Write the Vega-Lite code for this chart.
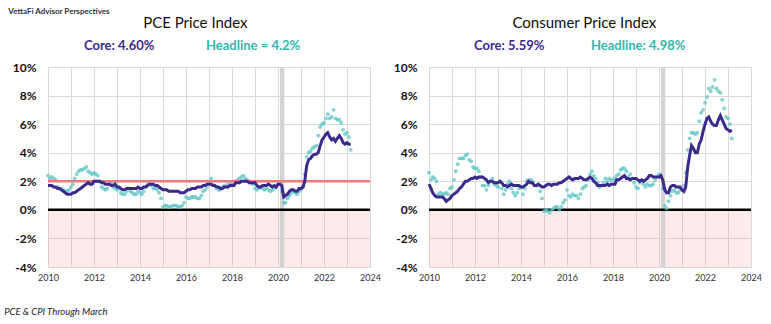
{
"$schema":"https://vega.github.io/schema/vega-lite/v6.json",
"background":"white",
"padding":{"left":4,"right":4,"top":8,"bottom":4},
"title":{"text":"PCE & CPI Through March","orient":"bottom","anchor":"start","frame":"bounds","fontSize":9.5,"fontStyle":"italic","fontWeight":"normal","color":"#222","offset":25,"dx":-4},
"datasets":{
"band":[{"a":"2020-02-01","b":"2020-04-10"}],
"m":[
{"d":"2010-01","pc":1.7,"ph":2.4,"cc":1.8,"ch":2.6},
{"d":"2010-02","pc":1.7,"ph":2.2,"cc":1.5,"ch":2.1},
{"d":"2010-03","pc":1.7,"ph":2.3,"cc":1.2,"ch":2.3},
{"d":"2010-04","pc":1.6,"ph":2.2,"cc":1.0,"ch":2.2},
{"d":"2010-05","pc":1.6,"ph":2.1,"cc":0.9,"ch":2.0},
{"d":"2010-06","pc":1.5,"ph":1.6,"cc":0.9,"ch":1.1},
{"d":"2010-07","pc":1.5,"ph":1.5,"cc":0.9,"ch":1.2},
{"d":"2010-08","pc":1.4,"ph":1.5,"cc":0.9,"ch":1.1},
{"d":"2010-09","pc":1.3,"ph":1.4,"cc":0.8,"ch":1.1},
{"d":"2010-10","pc":1.2,"ph":1.3,"cc":0.6,"ch":1.2},
{"d":"2010-11","pc":1.1,"ph":1.3,"cc":0.7,"ch":1.1},
{"d":"2010-12","pc":1.1,"ph":1.4,"cc":0.8,"ch":1.5},
{"d":"2011-01","pc":1.1,"ph":1.6,"cc":1.0,"ch":1.6},
{"d":"2011-02","pc":1.2,"ph":1.8,"cc":1.1,"ch":2.1},
{"d":"2011-03","pc":1.2,"ph":2.2,"cc":1.2,"ch":2.7},
{"d":"2011-04","pc":1.3,"ph":2.5,"cc":1.3,"ch":3.2},
{"d":"2011-05","pc":1.4,"ph":2.7,"cc":1.5,"ch":3.6},
{"d":"2011-06","pc":1.5,"ph":2.8,"cc":1.6,"ch":3.6},
{"d":"2011-07","pc":1.6,"ph":2.8,"cc":1.8,"ch":3.6},
{"d":"2011-08","pc":1.7,"ph":2.9,"cc":2.0,"ch":3.8},
{"d":"2011-09","pc":1.8,"ph":3.0,"cc":2.0,"ch":3.9},
{"d":"2011-10","pc":1.9,"ph":2.7,"cc":2.1,"ch":3.5},
{"d":"2011-11","pc":1.8,"ph":2.6,"cc":2.2,"ch":3.4},
{"d":"2011-12","pc":1.8,"ph":2.5,"cc":2.2,"ch":3.0},
{"d":"2012-01","pc":2.0,"ph":2.6,"cc":2.3,"ch":2.9},
{"d":"2012-02","pc":2.0,"ph":2.5,"cc":2.2,"ch":2.9},
{"d":"2012-03","pc":2.0,"ph":2.4,"cc":2.3,"ch":2.7},
{"d":"2012-04","pc":2.0,"ph":2.0,"cc":2.3,"ch":2.3},
{"d":"2012-05","pc":1.9,"ph":1.6,"cc":2.3,"ch":1.7},
{"d":"2012-06","pc":1.9,"ph":1.5,"cc":2.2,"ch":1.7},
{"d":"2012-07","pc":1.8,"ph":1.4,"cc":2.1,"ch":1.4},
{"d":"2012-08","pc":1.8,"ph":1.5,"cc":1.9,"ch":1.7},
{"d":"2012-09","pc":1.8,"ph":1.8,"cc":2.0,"ch":2.0},
{"d":"2012-10","pc":1.7,"ph":1.9,"cc":2.0,"ch":2.2},
{"d":"2012-11","pc":1.7,"ph":1.6,"cc":1.9,"ch":1.8},
{"d":"2012-12","pc":1.8,"ph":1.5,"cc":1.9,"ch":1.7},
{"d":"2013-01","pc":1.6,"ph":1.4,"cc":1.9,"ch":1.6},
{"d":"2013-02","pc":1.6,"ph":1.5,"cc":2.0,"ch":2.0},
{"d":"2013-03","pc":1.5,"ph":1.2,"cc":1.9,"ch":1.5},
{"d":"2013-04","pc":1.4,"ph":1.1,"cc":1.7,"ch":1.1},
{"d":"2013-05","pc":1.4,"ph":1.1,"cc":1.7,"ch":1.4},
{"d":"2013-06","pc":1.5,"ph":1.3,"cc":1.6,"ch":1.8},
{"d":"2013-07","pc":1.5,"ph":1.5,"cc":1.7,"ch":2.0},
{"d":"2013-08","pc":1.5,"ph":1.3,"cc":1.8,"ch":1.5},
{"d":"2013-09","pc":1.5,"ph":1.2,"cc":1.7,"ch":1.2},
{"d":"2013-10","pc":1.5,"ph":1.1,"cc":1.7,"ch":1.0},
{"d":"2013-11","pc":1.5,"ph":1.1,"cc":1.7,"ch":1.2},
{"d":"2013-12","pc":1.6,"ph":1.3,"cc":1.7,"ch":1.5},
{"d":"2014-01","pc":1.5,"ph":1.2,"cc":1.6,"ch":1.6},
{"d":"2014-02","pc":1.5,"ph":1.1,"cc":1.6,"ch":1.1},
{"d":"2014-03","pc":1.6,"ph":1.3,"cc":1.7,"ch":1.5},
{"d":"2014-04","pc":1.6,"ph":1.6,"cc":1.8,"ch":2.0},
{"d":"2014-05","pc":1.7,"ph":1.8,"cc":2.0,"ch":2.1},
{"d":"2014-06","pc":1.8,"ph":1.8,"cc":1.9,"ch":2.1},
{"d":"2014-07","pc":1.8,"ph":1.7,"cc":1.9,"ch":2.0},
{"d":"2014-08","pc":1.8,"ph":1.5,"cc":1.7,"ch":1.7},
{"d":"2014-09","pc":1.7,"ph":1.5,"cc":1.7,"ch":1.7},
{"d":"2014-10","pc":1.7,"ph":1.4,"cc":1.8,"ch":1.7},
{"d":"2014-11","pc":1.6,"ph":1.2,"cc":1.7,"ch":1.3},
{"d":"2014-12","pc":1.5,"ph":0.8,"cc":1.6,"ch":0.8},
{"d":"2015-01","pc":1.4,"ph":0.2,"cc":1.6,"ch":-0.1},
{"d":"2015-02","pc":1.4,"ph":0.3,"cc":1.7,"ch":0.0},
{"d":"2015-03","pc":1.4,"ph":0.3,"cc":1.8,"ch":-0.1},
{"d":"2015-04","pc":1.3,"ph":0.2,"cc":1.8,"ch":-0.2},
{"d":"2015-05","pc":1.3,"ph":0.2,"cc":1.7,"ch":0.0},
{"d":"2015-06","pc":1.3,"ph":0.3,"cc":1.8,"ch":0.1},
{"d":"2015-07","pc":1.3,"ph":0.3,"cc":1.8,"ch":0.2},
{"d":"2015-08","pc":1.3,"ph":0.3,"cc":1.8,"ch":0.2},
{"d":"2015-09","pc":1.3,"ph":0.2,"cc":1.9,"ch":0.0},
{"d":"2015-10","pc":1.2,"ph":0.2,"cc":1.9,"ch":0.2},
{"d":"2015-11","pc":1.2,"ph":0.3,"cc":2.0,"ch":0.5},
{"d":"2015-12","pc":1.2,"ph":0.5,"cc":2.1,"ch":0.7},
{"d":"2016-01","pc":1.3,"ph":0.9,"cc":2.2,"ch":1.4},
{"d":"2016-02","pc":1.4,"ph":0.8,"cc":2.3,"ch":1.0},
{"d":"2016-03","pc":1.4,"ph":0.8,"cc":2.2,"ch":0.9},
{"d":"2016-04","pc":1.5,"ph":0.9,"cc":2.1,"ch":1.1},
{"d":"2016-05","pc":1.5,"ph":0.9,"cc":2.2,"ch":1.0},
{"d":"2016-06","pc":1.5,"ph":0.9,"cc":2.2,"ch":1.0},
{"d":"2016-07","pc":1.6,"ph":0.8,"cc":2.2,"ch":0.8},
{"d":"2016-08","pc":1.6,"ph":0.8,"cc":2.3,"ch":1.1},
{"d":"2016-09","pc":1.6,"ph":1.0,"cc":2.2,"ch":1.5},
{"d":"2016-10","pc":1.7,"ph":1.3,"cc":2.1,"ch":1.6},
{"d":"2016-11","pc":1.7,"ph":1.4,"cc":2.1,"ch":1.7},
{"d":"2016-12","pc":1.8,"ph":1.6,"cc":2.2,"ch":2.1},
{"d":"2017-01","pc":1.8,"ph":1.9,"cc":2.3,"ch":2.5},
{"d":"2017-02","pc":1.8,"ph":2.2,"cc":2.2,"ch":2.7},
{"d":"2017-03","pc":1.7,"ph":1.8,"cc":2.0,"ch":2.4},
{"d":"2017-04","pc":1.7,"ph":1.7,"cc":1.9,"ch":2.2},
{"d":"2017-05","pc":1.6,"ph":1.5,"cc":1.7,"ch":1.9},
{"d":"2017-06","pc":1.6,"ph":1.4,"cc":1.7,"ch":1.6},
{"d":"2017-07","pc":1.5,"ph":1.4,"cc":1.7,"ch":1.7},
{"d":"2017-08","pc":1.5,"ph":1.6,"cc":1.7,"ch":1.9},
{"d":"2017-09","pc":1.6,"ph":1.7,"cc":1.7,"ch":2.2},
{"d":"2017-10","pc":1.6,"ph":1.6,"cc":1.8,"ch":2.0},
{"d":"2017-11","pc":1.6,"ph":1.8,"cc":1.7,"ch":2.2},
{"d":"2017-12","pc":1.7,"ph":1.8,"cc":1.8,"ch":2.1},
{"d":"2018-01","pc":1.7,"ph":1.8,"cc":1.8,"ch":2.1},
{"d":"2018-02","pc":1.7,"ph":1.8,"cc":1.8,"ch":2.2},
{"d":"2018-03","pc":1.9,"ph":2.0,"cc":2.1,"ch":2.4},
{"d":"2018-04","pc":1.9,"ph":2.1,"cc":2.1,"ch":2.5},
{"d":"2018-05","pc":1.9,"ph":2.2,"cc":2.2,"ch":2.8},
{"d":"2018-06","pc":2.0,"ph":2.3,"cc":2.3,"ch":2.9},
{"d":"2018-07","pc":2.0,"ph":2.4,"cc":2.4,"ch":2.9},
{"d":"2018-08","pc":2.0,"ph":2.2,"cc":2.2,"ch":2.7},
{"d":"2018-09","pc":2.0,"ph":2.1,"cc":2.2,"ch":2.3},
{"d":"2018-10","pc":1.9,"ph":2.0,"cc":2.1,"ch":2.5},
{"d":"2018-11","pc":1.9,"ph":1.9,"cc":2.2,"ch":2.2},
{"d":"2018-12","pc":1.9,"ph":1.8,"cc":2.2,"ch":1.9},
{"d":"2019-01","pc":1.9,"ph":1.5,"cc":2.2,"ch":1.6},
{"d":"2019-02","pc":1.7,"ph":1.4,"cc":2.1,"ch":1.5},
{"d":"2019-03","pc":1.6,"ph":1.5,"cc":2.0,"ch":1.9},
{"d":"2019-04","pc":1.6,"ph":1.6,"cc":2.1,"ch":2.0},
{"d":"2019-05","pc":1.7,"ph":1.5,"cc":2.0,"ch":1.8},
{"d":"2019-06","pc":1.7,"ph":1.4,"cc":2.1,"ch":1.6},
{"d":"2019-07","pc":1.7,"ph":1.5,"cc":2.2,"ch":1.8},
{"d":"2019-08","pc":1.8,"ph":1.4,"cc":2.4,"ch":1.7},
{"d":"2019-09","pc":1.7,"ph":1.3,"cc":2.4,"ch":1.7},
{"d":"2019-10","pc":1.6,"ph":1.4,"cc":2.3,"ch":1.8},
{"d":"2019-11","pc":1.7,"ph":1.5,"cc":2.3,"ch":2.1},
{"d":"2019-12","pc":1.6,"ph":1.6,"cc":2.3,"ch":2.3},
{"d":"2020-01","pc":1.8,"ph":1.8,"cc":2.3,"ch":2.5},
{"d":"2020-02","pc":1.8,"ph":1.8,"cc":2.4,"ch":2.3},
{"d":"2020-03","pc":1.7,"ph":1.3,"cc":2.1,"ch":1.5},
{"d":"2020-04","pc":0.9,"ph":0.5,"cc":1.4,"ch":0.3},
{"d":"2020-05","pc":1.0,"ph":0.5,"cc":1.2,"ch":0.1},
{"d":"2020-06","pc":1.1,"ph":0.8,"cc":1.2,"ch":0.6},
{"d":"2020-07","pc":1.3,"ph":1.0,"cc":1.6,"ch":1.0},
{"d":"2020-08","pc":1.4,"ph":1.2,"cc":1.7,"ch":1.3},
{"d":"2020-09","pc":1.4,"ph":1.3,"cc":1.7,"ch":1.4},
{"d":"2020-10","pc":1.3,"ph":1.2,"cc":1.6,"ch":1.2},
{"d":"2020-11","pc":1.3,"ph":1.1,"cc":1.6,"ch":1.2},
{"d":"2020-12","pc":1.5,"ph":1.3,"cc":1.6,"ch":1.4},
{"d":"2021-01","pc":1.5,"ph":1.4,"cc":1.4,"ch":1.4},
{"d":"2021-02","pc":1.6,"ph":1.6,"cc":1.3,"ch":1.7},
{"d":"2021-03","pc":2.0,"ph":2.5,"cc":1.6,"ch":2.6},
{"d":"2021-04","pc":3.1,"ph":3.7,"cc":3.0,"ch":4.2},
{"d":"2021-05","pc":3.5,"ph":4.0,"cc":3.8,"ch":5.0},
{"d":"2021-06","pc":3.6,"ph":4.1,"cc":4.5,"ch":5.4},
{"d":"2021-07","pc":3.8,"ph":4.3,"cc":4.3,"ch":5.4},
{"d":"2021-08","pc":3.9,"ph":4.4,"cc":4.0,"ch":5.3},
{"d":"2021-09","pc":3.9,"ph":4.5,"cc":4.0,"ch":5.4},
{"d":"2021-10","pc":4.0,"ph":5.2,"cc":4.6,"ch":6.2},
{"d":"2021-11","pc":4.5,"ph":5.8,"cc":4.9,"ch":6.8},
{"d":"2021-12","pc":4.9,"ph":6.0,"cc":5.5,"ch":7.0},
{"d":"2022-01","pc":5.1,"ph":6.1,"cc":6.0,"ch":7.5},
{"d":"2022-02","pc":5.3,"ph":6.4,"cc":6.4,"ch":7.9},
{"d":"2022-03","pc":5.4,"ph":6.7,"cc":6.5,"ch":8.5},
{"d":"2022-04","pc":5.1,"ph":6.4,"cc":6.2,"ch":8.3},
{"d":"2022-05","pc":4.9,"ph":6.5,"cc":6.0,"ch":8.6},
{"d":"2022-06","pc":5.0,"ph":7.0,"cc":5.9,"ch":9.1},
{"d":"2022-07","pc":4.8,"ph":6.4,"cc":5.9,"ch":8.5},
{"d":"2022-08","pc":5.0,"ph":6.3,"cc":6.3,"ch":8.3},
{"d":"2022-09","pc":5.2,"ph":6.3,"cc":6.6,"ch":8.2},
{"d":"2022-10","pc":5.0,"ph":6.1,"cc":6.3,"ch":7.7},
{"d":"2022-11","pc":4.7,"ph":5.6,"cc":6.0,"ch":7.1},
{"d":"2022-12","pc":4.6,"ph":5.3,"cc":5.7,"ch":6.5},
{"d":"2023-01","pc":4.7,"ph":5.4,"cc":5.6,"ch":6.4},
{"d":"2023-02","pc":4.6,"ph":5.1,"cc":5.5,"ch":6.0},
{"d":"2023-03","pc":4.6,"ph":4.2,"cc":5.6,"ch":5.0}
]},
"vconcat":[{
"title":{"text":"VettaFi  Advisor Perspectives","orient":"top","anchor":"start","frame":"bounds","fontSize":8,"fontWeight":"bold","color":"#333","offset":0,"dx":-4},
"spacing":12,
"resolve":{"scale":{"color":"independent"},"legend":{"color":"independent"}},
"hconcat":[
{
"width":322,"height":200,
"title":{"text":"PCE Price Index","frame":"bounds","anchor":"middle","fontSize":15,"fontWeight":"normal","color":"#111","offset":8,"dx":-1},
"layer":[
{"data":{"values":[{}]},"mark":{"type":"rect","color":"#f5a5a5","opacity":0.22},"encoding":{"y":{"datum":0,"type":"quantitative","scale":{"domain":[-4,10],"nice":false,"zero":false},"axis":{"title":null,"values":[-4,-2,0,2,4,6,8,10],"tickCount":20,"labelExpr":"datum.value + '%'","grid":true,"gridColor":"#d9d9d9","ticks":false,"domain":false,"labelFontSize":12,"labelFontWeight":"bold","labelColor":"#111","labelPadding":12,"labelOverlap":false}},"y2":{"datum":-4}}},
{"data":{"name":"band"},"mark":{"type":"rect","color":"#d3d3d3"},"encoding":{"x":{"field":"a","type":"temporal","scale":{"domain":[{"year":2010,"month":1,"date":1},{"year":2024,"month":1,"date":1}]},"axis":{"title":null,"grid":true,"gridColor":"#d9d9d9","ticks":false,"domain":false,"tickCount":{"interval":"year","step":1},"labelExpr":"year(datum.value) % 2 == 0 ? timeFormat(datum.value,'%Y') : ''","labelFlush":false,"labelOverlap":false,"labelFontSize":9,"labelColor":"#333","labelPadding":6}},"x2":{"field":"b"}}},
{"data":{"values":[{}]},"mark":{"type":"rule","color":"#000000","strokeWidth":2.5},"encoding":{"y":{"datum":0,"type":"quantitative"}}},
{"data":{"name":"m"},"mark":{"type":"point","filled":true,"size":15,"opacity":0.75},"encoding":{"x":{"field":"d","type":"temporal"},"y":{"field":"ph","type":"quantitative"},"color":{"datum":"Headline","type":"nominal"}}},
{"data":{"values":[{}]},"mark":{"type":"rule","color":"#f07a76","strokeWidth":2.5},"encoding":{"y":{"datum":2,"type":"quantitative"}}},
{"data":{"name":"m"},"mark":{"type":"line","strokeWidth":3},"encoding":{
"x":{"field":"d","type":"temporal"},
"y":{"field":"pc","type":"quantitative"},
"color":{"datum":"Core","type":"nominal","scale":{"domain":["Core","Headline"],"range":["#3b2a8c","#5ec4c4"]},"legend":{"title":null,"orient":"none","legendX":23,"legendY":-28,"direction":"horizontal","symbolOpacity":0,"symbolSize":0,"symbolStrokeWidth":0,"labelOffset":0,"labelFontSize":13,"labelFontWeight":"bold","columnPadding":38,"labelExpr":"datum.value == 'Core' ? 'Core: 4.60%' : 'Headline = 4.2%'","labelColor":{"expr":"datum.value == 'Core' ? '#3b2a8c' : '#35b5b0'"}}}
}}
]
},
{
"width":322,"height":200,
"title":{"text":"Consumer Price Index","frame":"bounds","anchor":"middle","fontSize":15,"fontWeight":"normal","color":"#111","offset":8,"dx":7},
"layer":[
{"data":{"values":[{}]},"mark":{"type":"rect","color":"#f5a5a5","opacity":0.22},"encoding":{"y":{"datum":0,"type":"quantitative","scale":{"domain":[-4,10],"nice":false,"zero":false},"axis":{"title":null,"values":[-4,-2,0,2,4,6,8,10],"tickCount":20,"labelExpr":"datum.value + '%'","grid":true,"gridColor":"#d9d9d9","ticks":false,"domain":false,"labelFontSize":12,"labelFontWeight":"bold","labelColor":"#111","labelPadding":12,"labelOverlap":false}},"y2":{"datum":-4}}},
{"data":{"name":"band"},"mark":{"type":"rect","color":"#d3d3d3"},"encoding":{"x":{"field":"a","type":"temporal","scale":{"domain":[{"year":2010,"month":1,"date":1},{"year":2024,"month":1,"date":1}]},"axis":{"title":null,"grid":true,"gridColor":"#d9d9d9","ticks":false,"domain":false,"tickCount":{"interval":"year","step":1},"labelExpr":"year(datum.value) % 2 == 0 ? timeFormat(datum.value,'%Y') : ''","labelFlush":false,"labelOverlap":false,"labelFontSize":9,"labelColor":"#333","labelPadding":6}},"x2":{"field":"b"}}},
{"data":{"values":[{}]},"mark":{"type":"rule","color":"#000000","strokeWidth":2.5},"encoding":{"y":{"datum":0,"type":"quantitative"}}},
{"data":{"name":"m"},"mark":{"type":"point","filled":true,"size":15,"opacity":0.75},"encoding":{"x":{"field":"d","type":"temporal"},"y":{"field":"ch","type":"quantitative"},"color":{"datum":"Headline","type":"nominal"}}},
{"data":{"name":"m"},"mark":{"type":"line","strokeWidth":3},"encoding":{
"x":{"field":"d","type":"temporal"},
"y":{"field":"cc","type":"quantitative"},
"color":{"datum":"Core","type":"nominal","scale":{"domain":["Core","Headline"],"range":["#3b2a8c","#5ec4c4"]},"legend":{"title":null,"orient":"none","legendX":32,"legendY":-28,"direction":"horizontal","symbolOpacity":0,"symbolSize":0,"symbolStrokeWidth":0,"labelOffset":0,"labelFontSize":13,"labelFontWeight":"bold","columnPadding":33,"labelExpr":"datum.value == 'Core' ? 'Core: 5.59%' : 'Headline: 4.98%'","labelColor":{"expr":"datum.value == 'Core' ? '#3b2a8c' : '#35b5b0'"}}}
}}
]
}
]
}],
"config":{"view":{"stroke":null},"font":"Lato"}
}
